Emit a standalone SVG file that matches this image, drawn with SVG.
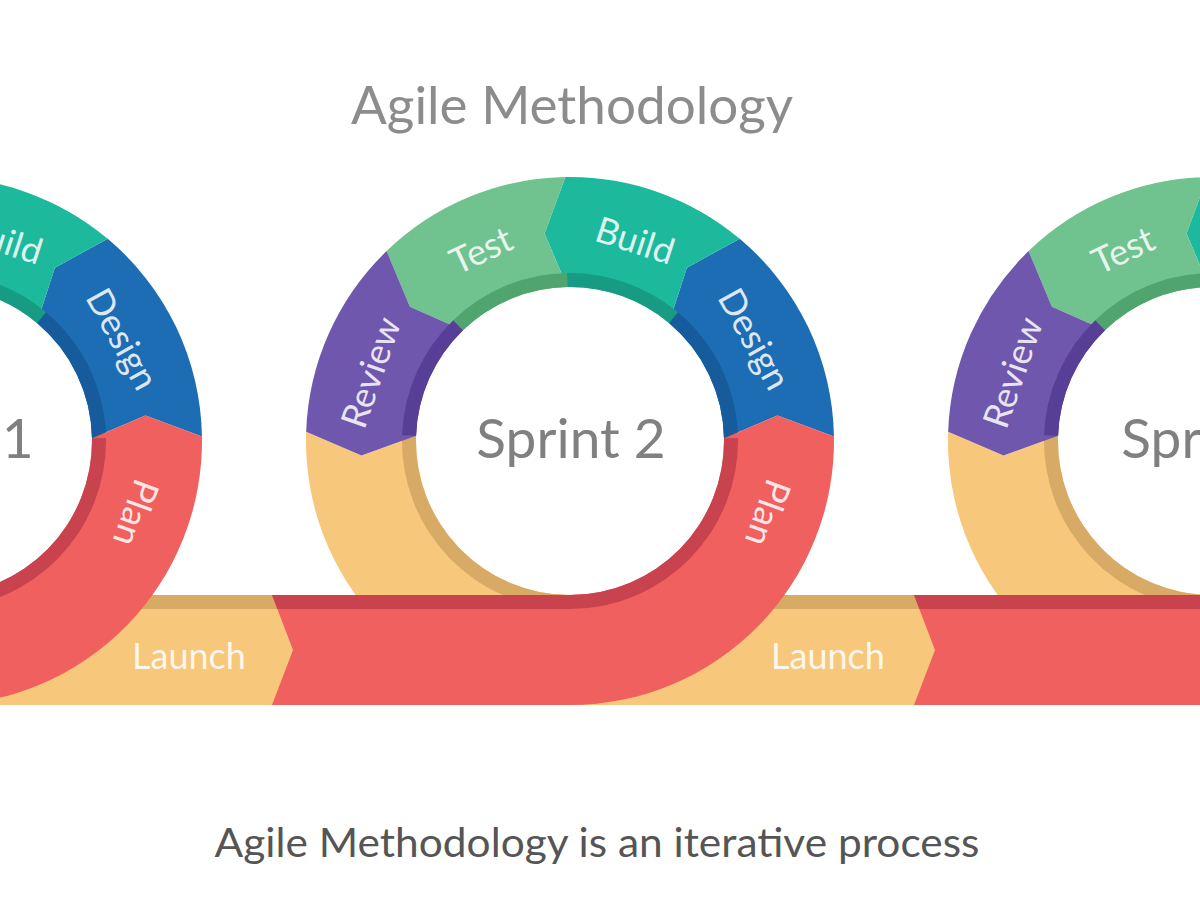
<svg xmlns="http://www.w3.org/2000/svg" xmlns:xlink="http://www.w3.org/1999/xlink" width="1200" height="900" viewBox="0 0 1200 900">
  <style>
    .plan{fill:#EF605E}.plan-d{fill:#C9434F}
    .design{fill:#1C6DB3}.design-d{fill:#165C9C}
    .build{fill:#1DB99C}.build-d{fill:#179C83}
    .test{fill:#70C28F}.test-d{fill:#50A46D}
    .review{fill:#6F57AE}.review-d{fill:#573E96}
    .launch{fill:#F7C87B}.launch-d{fill:#D7AA66}
    .lbl{font-family:Lato,"Open Sans","Liberation Sans",sans-serif;font-size:36px;fill:#ffffff;fill-opacity:0.85;text-anchor:middle}
    .sprint{font-family:Lato,"Open Sans","Liberation Sans",sans-serif;font-size:55px;fill:#808080;text-anchor:middle}
    .title{font-family:Lato,"Open Sans","Liberation Sans",sans-serif;font-size:53px;fill:#8c8c8c;text-anchor:middle}
    .caption{font-family:Lato,"Open Sans","Liberation Sans",sans-serif;font-size:41px;fill:#555555;text-anchor:middle}
  </style>
  <defs>
    <path id="seg-launch" d="M -263.84,-9.21 A 264 264 0 0 0 0,264 L 345,264 L 366,209 L 345,154 L 0,154 A 154 154 0 0 1 -153.91,-5.37 L -208.49,14.58 Z"/>
    <path id="band-launch" d="M -153.91,-5.37 A 154 154 0 0 0 0,154 L 345,154 L 350.3,168 L 0,168 A 168 168 0 0 1 -167.9,-5.86 Z"/>
    <path id="seg-design" d="M 263.96,-4.61 A 264 264 0 0 0 169.7,-202.23 L 116.87,-173.27 L 98.99,-117.97 A 154 154 0 0 1 153.98,-2.69 L 207.44,-25.47 Z"/>
    <path id="band-design" d="M 153.98,-2.69 A 154 154 0 0 0 98.99,-117.97 L 107.99,-128.69 A 168 168 0 0 1 167.97,-2.93 Z"/>
    <path id="seg-build" d="M 169.7,-202.23 A 264 264 0 0 0 -4.61,-263.96 L -25.47,-207.44 L -2.69,-153.98 A 154 154 0 0 1 98.99,-117.97 L 116.87,-173.27 Z"/>
    <path id="band-build" d="M 98.99,-117.97 A 154 154 0 0 0 -2.69,-153.98 L -2.93,-167.97 A 168 168 0 0 1 107.99,-128.69 Z"/>
    <path id="seg-test" d="M -4.61,-263.96 A 264 264 0 0 0 -183.39,-189.91 L -160.1,-134.34 L -106.98,-110.78 A 154 154 0 0 1 -2.69,-153.98 L -25.47,-207.44 Z"/>
    <path id="band-test" d="M -2.69,-153.98 A 154 154 0 0 0 -106.98,-110.78 L -116.7,-120.85 A 168 168 0 0 1 -2.93,-167.97 Z"/>
    <path id="seg-review" d="M -183.39,-189.91 A 264 264 0 0 0 -263.84,-9.21 L -208.49,14.58 L -153.91,-5.37 A 154 154 0 0 1 -106.98,-110.78 L -160.1,-134.34 Z"/>
    <path id="band-review" d="M -106.98,-110.78 A 154 154 0 0 0 -153.91,-5.37 L -167.9,-5.86 A 168 168 0 0 1 -116.7,-120.85 Z"/>
    <path id="seg-plan" d="M -298,154 L 0,154 A 154 154 0 0 0 153.98,-2.69 L 207.44,-25.47 L 263.96,-4.61 A 264 264 0 0 1 0,264 L -298,264 L -277,209 Z"/>
    <path id="band-plan" d="M -298,154 L 0,154 A 154 154 0 0 0 153.98,-2.69 L 167.97,-2.93 A 168 168 0 0 1 0,168 L -292.65,168 Z"/>
  </defs>

  <rect width="1200" height="900" fill="#ffffff"/>

  <g id="title"><text class="title" x="572" y="124">Agile Methodology</text></g>

  <g id="connectors"></g>

  <!-- Sprint 1 -->
  <g id="sprint1" transform="translate(-62,441)">
    <g id="s1-launch"><use xlink:href="#seg-launch" class="launch"/><use xlink:href="#band-launch" class="launch-d"/><text class="lbl" x="251" y="228">Launch</text></g>
    <g id="s1-design"><use xlink:href="#seg-design" class="design"/><use xlink:href="#band-design" class="design-d"/><text class="lbl" transform="translate(182.8,-101.3) rotate(61)" y="11">Design</text></g>
    <g id="s1-build"><use xlink:href="#seg-build" class="build"/><use xlink:href="#band-build" class="build-d"/><text class="lbl" transform="translate(64.6,-198.8) rotate(18)" y="11">Build</text></g>
    <g id="s1-test"><use xlink:href="#seg-test" class="test"/><use xlink:href="#band-test" class="test-d"/></g>
    <g id="s1-review"><use xlink:href="#seg-review" class="review"/><use xlink:href="#band-review" class="review-d"/></g>
    <g id="s1-plan"><use xlink:href="#seg-plan" class="plan"/><use xlink:href="#band-plan" class="plan-d"/><text class="lbl" transform="translate(196.4,71.5) rotate(110)" y="11">Plan</text></g>
    <text class="sprint" x="1" y="17">Sprint 1</text>
  </g>

  <!-- Sprint 2 -->
  <g id="sprint2" transform="translate(570,441)">
    <g id="s2-launch"><use xlink:href="#seg-launch" class="launch"/><use xlink:href="#band-launch" class="launch-d"/><text class="lbl" x="258" y="228">Launch</text></g>
    <g id="s2-design"><use xlink:href="#seg-design" class="design"/><use xlink:href="#band-design" class="design-d"/><text class="lbl" transform="translate(182.8,-101.3) rotate(61)" y="11">Design</text></g>
    <g id="s2-build"><use xlink:href="#seg-build" class="build"/><use xlink:href="#band-build" class="build-d"/><text class="lbl" transform="translate(64.6,-198.8) rotate(18)" y="11">Build</text></g>
    <g id="s2-test"><use xlink:href="#seg-test" class="test"/><use xlink:href="#band-test" class="test-d"/><text class="lbl" transform="translate(-88.3,-189.4) rotate(-25)" y="11">Test</text></g>
    <g id="s2-review"><use xlink:href="#seg-review" class="review"/><use xlink:href="#band-review" class="review-d"/><text class="lbl" transform="translate(-197.6,-68) rotate(-71)" y="11">Review</text></g>
    <g id="s2-plan"><use xlink:href="#seg-plan" class="plan"/><use xlink:href="#band-plan" class="plan-d"/><text class="lbl" transform="translate(196.4,71.5) rotate(110)" y="11">Plan</text></g>
    <text class="sprint" x="1" y="17">Sprint 2</text>
  </g>

  <!-- Sprint 3 -->
  <g id="sprint3" transform="translate(1212,441)">
    <g id="s3-launch"><use xlink:href="#seg-launch" class="launch"/><use xlink:href="#band-launch" class="launch-d"/></g>
    <g id="s3-design"><use xlink:href="#seg-design" class="design"/><use xlink:href="#band-design" class="design-d"/></g>
    <g id="s3-build"><use xlink:href="#seg-build" class="build"/><use xlink:href="#band-build" class="build-d"/></g>
    <g id="s3-test"><use xlink:href="#seg-test" class="test"/><use xlink:href="#band-test" class="test-d"/><text class="lbl" transform="translate(-88.3,-189.4) rotate(-25)" y="11">Test</text></g>
    <g id="s3-review"><use xlink:href="#seg-review" class="review"/><use xlink:href="#band-review" class="review-d"/><text class="lbl" transform="translate(-197.6,-68) rotate(-71)" y="11">Review</text></g>
    <g id="s3-plan"><use xlink:href="#seg-plan" class="plan"/><use xlink:href="#band-plan" class="plan-d"/></g>
    <text class="sprint" x="4" y="17">Sprint 3</text>
  </g>

  <g id="caption"><text class="caption" x="597" y="857" textLength="765" lengthAdjust="spacingAndGlyphs">Agile Methodology is an iterative process</text></g>
</svg>
